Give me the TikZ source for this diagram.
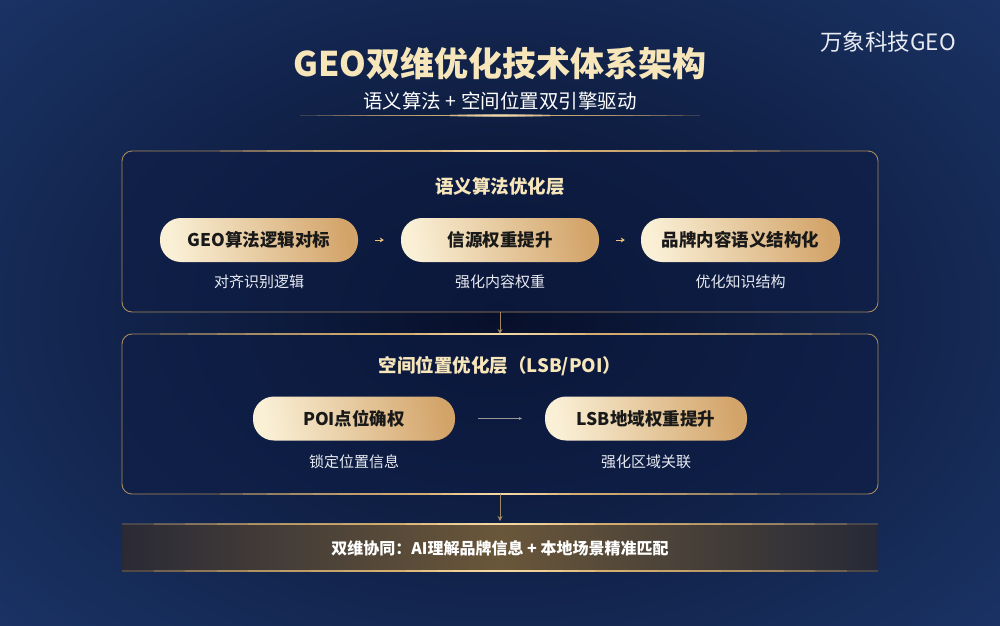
\documentclass[tikz,border=0pt]{standalone}
\usepackage{fontspec}
\setmainfont{Noto Sans CJK SC}
\usetikzlibrary{arrows.meta,fadings,shadings}
\definecolor{bgdark}{HTML}{070F2A}
\definecolor{bglight}{HTML}{21407A}
\definecolor{gold}{HTML}{EBC07A}
\definecolor{goldlight}{HTML}{FFE7B8}
\definecolor{goldline}{HTML}{A98A5C}
\definecolor{titlegold}{HTML}{F6E6BA}
\definecolor{pillL}{HTML}{FAF0D6}
\definecolor{pillR}{HTML}{D3A46A}
\definecolor{boxfill}{HTML}{0E1D45}
\definecolor{subtxt}{HTML}{E8EBF2}
\definecolor{banL}{HTML}{2A2A36}
\definecolor{banM}{HTML}{6A573A}
\definecolor{banR}{HTML}{262937}
\tikzfading[name=midfade, left color=transparent!100, middle color=transparent!0, right color=transparent!100]
\newcommand{\glowln}[4]{%
  \foreach \k in {1,...,12}{\fill[gold, opacity=0.2] ({#1-#3*\k/12},{#2-#4/2}) rectangle ({#1+#3*\k/12},{#2+#4/2});}%
  \foreach \k in {1,...,6}{\fill[goldlight, opacity=0.18] ({#1-#3*\k/24},{#2-#4/2-0.3}) rectangle ({#1+#3*\k/24},{#2+#4/2+0.3});}}
\tikzset{
  layerbox/.style={draw=goldline, line width=0.9pt, rounded corners=10pt, fill=boxfill, fill opacity=0.6},
  pill/.style={rounded corners=21pt, minimum height=44pt, inner sep=0pt, left color=pillL, right color=pillR, shading angle=100,
     text=black!90, font=\fontsize{17.5}{20}\selectfont\bfseries},
  header/.style={text=titlegold, font=\fontsize{18.5}{22}\selectfont\bfseries},
  subtext/.style={text=subtxt, font=\fontsize{15}{18}\selectfont},
  smallarrow/.style={draw=gold, line width=0.8pt, -{Stealth[length=4pt,width=5pt]}},
  vlink/.style={draw=goldline!80!gray, line width=0.7pt, -{Stealth[length=5pt,width=5pt,fill=gold]}},
}
\begin{document}
\begin{tikzpicture}[x=1pt,y=-1pt]
\useasboundingbox (0,0) rectangle (1000,625);
% background
\shade[inner color=bgdark, outer color=bglight] (-420,-330) rectangle (1420,955);
\fill[bgdark, opacity=0.45, path fading=midfade] (150,0) rectangle (850,625);

% brand
\node[text=subtxt, font=\fontsize{22.5}{26}\selectfont, anchor=center] (brand) at (888,42) {万象科技GEO};

% title
\node[text=titlegold, font=\fontsize{34}{40}\selectfont\bfseries] (title) at (500,63) {GEO双维优化技术体系架构};
\node[text=white, font=\fontsize{19.5}{23}\selectfont] (subtitle) at (500,101) {语义算法 + 空间位置双引擎驱动};
\glowln{500}{115.5}{200}{1.6}

% layer 1
\draw[layerbox] (122,151) rectangle (878,312);
\glowln{500}{151}{280}{1.8}
\node[header] (h1) at (500,186) {语义算法优化层};
\node[pill, minimum width=198pt] (p1) at (259,240) {GEO算法逻辑对标};
\node[pill, minimum width=198pt] (p2) at (500,240) {信源权重提升};
\node[pill, minimum width=199pt] (p3) at (740.5,240) {品牌内容语义结构化};
\draw[smallarrow, shorten <=17pt, shorten >=17pt] (p1.east) -- (p2.west);
\draw[smallarrow, shorten <=17pt, shorten >=16pt] (p2.east) -- (p3.west);
\node[subtext] (s1) at (259,282) {对齐识别逻辑};
\node[subtext] (s2) at (500,282) {强化内容权重};
\node[subtext] (s3) at (740.5,282) {优化知识结构};

% layer 2
\draw[layerbox] (122,334) rectangle (878,494);
\glowln{500}{334}{340}{1.8}
\glowln{500}{494}{280}{1.8}
\coordinate (b1s) at (500,312);
\coordinate (b2n) at (500,334);
\draw[vlink] (b1s) -- (b2n);
\node[header] (h2) at (500,366) {空间位置优化层（LSB/POI）};
\node[pill, minimum width=202pt] (p4) at (354,418.5) {POI点位确权};
\node[pill, minimum width=202pt] (p5) at (646,418.5) {LSB地域权重提升};
\draw[draw=gray!80, line width=0.5pt, -{Stealth[length=3pt,width=3pt]}, shorten <=23pt, shorten >=23pt] (p4.east) -- (p5.west);
\node[subtext] (s4) at (354,462) {锁定位置信息};
\node[subtext] (s5) at (646,462) {强化区域关联};

% banner
\shade[left color=banL, right color=banR, middle color=banM] (122,524) rectangle (878,571);
\glowln{500}{524}{378}{1.6}
\glowln{500}{571}{378}{1.6}
\node[text=white, font=\fontsize{16}{18}\selectfont\bfseries] (banner) at (500,548) {双维协同：AI理解品牌信息 + 本地场景精准匹配};
\coordinate (b2s) at (500,494);
\coordinate (bnn) at (500,521);
\draw[vlink] (b2s) -- (bnn);
\end{tikzpicture}
\end{document}
